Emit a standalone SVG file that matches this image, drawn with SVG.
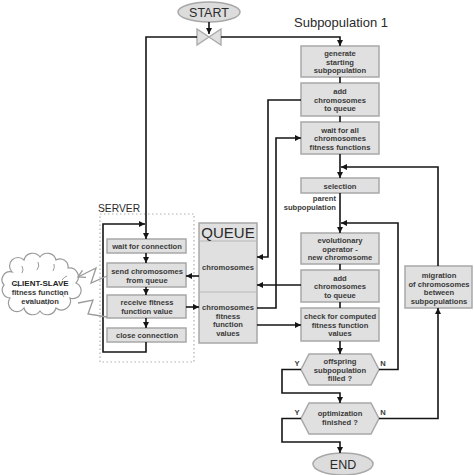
<svg xmlns="http://www.w3.org/2000/svg" width="474" height="475" viewBox="0 0 474 475">
<style>
.box{fill:#e0e0e0;stroke:#a8a8a8;stroke-width:1.5}
.t{font-family:"Liberation Sans",Arial,sans-serif;font-size:7.6px;font-weight:bold;fill:#3a3a3a;text-anchor:middle}
.big{font-family:"Liberation Sans",Arial,sans-serif;fill:#2a2a2a;text-anchor:middle}
.c{fill:none;stroke:#151515;stroke-width:1.6}
.z{fill:none;stroke:#9a9a9a;stroke-width:1.3}
</style>
<defs>
<marker id="a" markerUnits="userSpaceOnUse" markerWidth="7" markerHeight="6" refX="6" refY="3" orient="auto">
<path d="M0,0 L6,3 L0,6 Z" fill="#151515"/>
</marker>
<marker id="g" markerUnits="userSpaceOnUse" markerWidth="9" markerHeight="9" refX="7" refY="4" orient="auto">
<path d="M0,0 L7,4 L0,8" fill="none" stroke="#9a9a9a" stroke-width="1.3"/>
</marker>
</defs>
<rect width="474" height="475" fill="#ffffff"/>

<g id="title">
<text class="big" x="294" y="27" font-size="13" style="text-anchor:start">Subpopulation 1</text>
</g>

<g id="start">
<ellipse cx="209" cy="12" rx="31" ry="10" fill="#dcdcdc" stroke="#a8a8a8" stroke-width="1.5"/>
<text class="big" x="209" y="17" font-size="12.5">START</text>
</g>
<g id="valve">
<polygon points="197,29 197,45 209,37" fill="#e0e0e0" stroke="#a8a8a8" stroke-width="1.3"/>
<polygon points="221,29 221,45 209,37" fill="#e0e0e0" stroke="#a8a8a8" stroke-width="1.3"/>
</g>

<g id="generate">
<rect class="box" x="301" y="46" width="78" height="31"/>
<text class="t" x="340" y="56">generate</text>
<text class="t" x="340" y="64.5">starting</text>
<text class="t" x="340" y="73">subpopulation</text>
</g>
<g id="add1">
<rect class="box" x="301" y="83" width="78" height="33"/>
<text class="t" x="340" y="94">add</text>
<text class="t" x="340" y="102.5">chromosomes</text>
<text class="t" x="340" y="111">to queue</text>
</g>
<g id="waitall">
<rect class="box" x="301" y="122" width="78" height="32"/>
<text class="t" x="340" y="132.5">wait for all</text>
<text class="t" x="340" y="141">chromosomes</text>
<text class="t" x="340" y="149.5">fitness functions</text>
</g>
<g id="selection">
<rect class="box" x="301" y="178" width="78" height="15"/>
<text class="t" x="340" y="188.5">selection</text>
</g>
<g id="parentlabel">
<text class="t" x="336" y="201" style="text-anchor:end">parent</text>
<text class="t" x="336" y="210" style="text-anchor:end">subpopulation</text>
</g>
<g id="evolutionary">
<rect class="box" x="301" y="233" width="78" height="31"/>
<text class="t" x="340" y="243">evolutionary</text>
<text class="t" x="340" y="251.5">operator -</text>
<text class="t" x="340" y="260">new chromosome</text>
</g>
<g id="add2">
<rect class="box" x="301" y="270" width="78" height="32"/>
<text class="t" x="340" y="280.5">add</text>
<text class="t" x="340" y="289">chromosomes</text>
<text class="t" x="340" y="297.5">to queue</text>
</g>
<g id="check">
<rect class="box" x="301" y="308" width="78" height="33"/>
<text class="t" x="340" y="319">check for computed</text>
<text class="t" x="340" y="327.5">fitness function</text>
<text class="t" x="340" y="336">values</text>
</g>
<g id="offspring">
<polygon class="box" points="301,369.5 309,354 371,354 379,369.5 371,385 309,385"/>
<text class="t" x="340" y="364">offspring</text>
<text class="t" x="340" y="372.5">subpopulation</text>
<text class="t" x="340" y="381">filled ?</text>
<text class="t" x="297" y="366">Y</text>
<text class="t" x="383" y="366">N</text>
</g>
<g id="optimization">
<polygon class="box" points="301,418.5 309,403 371,403 379,418.5 371,434 309,434"/>
<text class="t" x="340" y="416">optimization</text>
<text class="t" x="340" y="425">finished ?</text>
<text class="t" x="297" y="415">Y</text>
<text class="t" x="383" y="415">N</text>
</g>
<g id="end">
<ellipse cx="343" cy="464" rx="30" ry="11" fill="#dcdcdc" stroke="#a8a8a8" stroke-width="1.5"/>
<text class="big" x="343" y="469" font-size="12.5">END</text>
</g>
<g id="migration">
<rect class="box" x="405" y="266" width="67" height="42"/>
<text class="t" x="439" y="278">migration</text>
<text class="t" x="439" y="286.5">of chromosomes</text>
<text class="t" x="439" y="295">between</text>
<text class="t" x="439" y="303.5">subpopulations</text>
</g>

<g id="queue">
<rect class="box" x="199" y="223" width="58" height="120"/>
<line x1="199" y1="241" x2="257" y2="241" stroke="#b8b8b8" stroke-width="1.2"/>
<line x1="199" y1="292" x2="257" y2="292" stroke="#b8b8b8" stroke-width="1.2"/>
<text class="big" x="228" y="238" font-size="15">QUEUE</text>
<text class="t" x="228" y="270">chromosomes</text>
<text class="t" x="228" y="310">chromosomes</text>
<text class="t" x="228" y="318.5">fitness</text>
<text class="t" x="228" y="327">function</text>
<text class="t" x="228" y="335.5">values</text>
</g>

<g id="server">
<rect x="100" y="214" width="94" height="148" fill="none" stroke="#b0b0b0" stroke-width="1.2" stroke-dasharray="1.5,2.5"/>
<text class="big" x="98" y="212" font-size="10.3" style="text-anchor:start">SERVER</text>
</g>
<g id="waitconn">
<rect class="box" x="107" y="239" width="79" height="14"/>
<text class="t" x="147" y="249">wait for connection</text>
</g>
<g id="send">
<rect class="box" x="107" y="263" width="79" height="24"/>
<text class="t" x="147" y="274">send chromosomes</text>
<text class="t" x="147" y="282.5">from queue</text>
</g>
<g id="receive">
<rect class="box" x="107" y="295" width="79" height="23"/>
<text class="t" x="147" y="305">receive fitness</text>
<text class="t" x="147" y="313.5">function value</text>
</g>
<g id="close">
<rect class="box" x="107" y="328" width="79" height="14"/>
<text class="t" x="147" y="338">close connection</text>
</g>

<g id="client">
<path d="M12,272 A8,8 0 0 1 24,260 A9,9 0 0 1 40,257 A9,9 0 0 1 56,260 A8,8 0 0 1 68,268 A9,9 0 0 1 76,283 A8,8 0 0 1 70,298 A9,9 0 0 1 56,308 A9,9 0 0 1 40,311 A9,9 0 0 1 24,308 A8,8 0 0 1 10,298 A8,8 0 0 1 4,285 A8,8 0 0 1 12,272 Z" fill="#ffffff" stroke="#9a9a9a" stroke-width="1.2"/>
<path d="M22,266 Q24,270 22,273 M38,262 Q40,266 37,270 M54,264 Q55,268 53,271 M67,276 Q64,277 62,280 M14,284 Q17,284 19,287 M26,303 Q28,300 31,300 M48,305 Q47,302 50,300 M64,297 Q62,295 62,292" fill="none" stroke="#9a9a9a" stroke-width="1"/>
<text class="t" x="40" y="286" style="font-size:8px;fill:#222">CLIENT-SLAVE</text>
<text class="t" x="40" y="295">fitness function</text>
<text class="t" x="40" y="303.5">evaluation</text>
</g>

<g id="connectors">
<path class="c" d="M209,22 V34" marker-end="url(#a)"/>
<path class="c" d="M197,37 H146 V239" marker-end="url(#a)"/>
<path class="c" d="M221,37 H340 V46" marker-end="url(#a)"/>
<path class="c" d="M340,77 V83"/>
<path class="c" d="M340,116 V122"/>
<path class="c" d="M340,154 V178" marker-end="url(#a)"/>
<path class="c" d="M340,193 V233" marker-end="url(#a)"/>
<path class="c" d="M340,264 V270"/>
<path class="c" d="M340,302 V308"/>
<path class="c" d="M340,341 V354" marker-end="url(#a)"/>
<path class="c" d="M301,369.5 H282 V393 H340 V403" marker-end="url(#a)"/>
<path class="c" d="M379,369.5 H398 V223 H341" marker-end="url(#a)"/>
<path class="c" d="M301,418.5 H282 V442 H340 V453" marker-end="url(#a)"/>
<path class="c" d="M379,418.5 H438 V308" marker-end="url(#a)"/>
<path class="c" d="M438,266 V167 H341" marker-end="url(#a)"/>
<path class="c" d="M301,100 H268 V257 H257" marker-end="url(#a)"/>
<path class="c" d="M257,308 H276 V138 H301" marker-end="url(#a)"/>
<path class="c" d="M301,285 H257" marker-end="url(#a)"/>
<path class="c" d="M257,325 H301" marker-end="url(#a)"/>
<path class="c" d="M199,276 H186" marker-end="url(#a)"/>
<path class="c" d="M186,307 H199" marker-end="url(#a)"/>
<path class="c" d="M146,253 V263" marker-end="url(#a)"/>
<path class="c" d="M146,287 V295" marker-end="url(#a)"/>
<path class="c" d="M146,318 V328" marker-end="url(#a)"/>
<path class="c" d="M146,342 V352 H103 V224 H145" marker-end="url(#a)"/>
<path class="z" d="M107,276 L91,283 L96,268 L78,277" marker-end="url(#g)"/>
<path class="z" d="M78,303 L93,300 L88,314 L107,317"/>
</g>
</svg>
